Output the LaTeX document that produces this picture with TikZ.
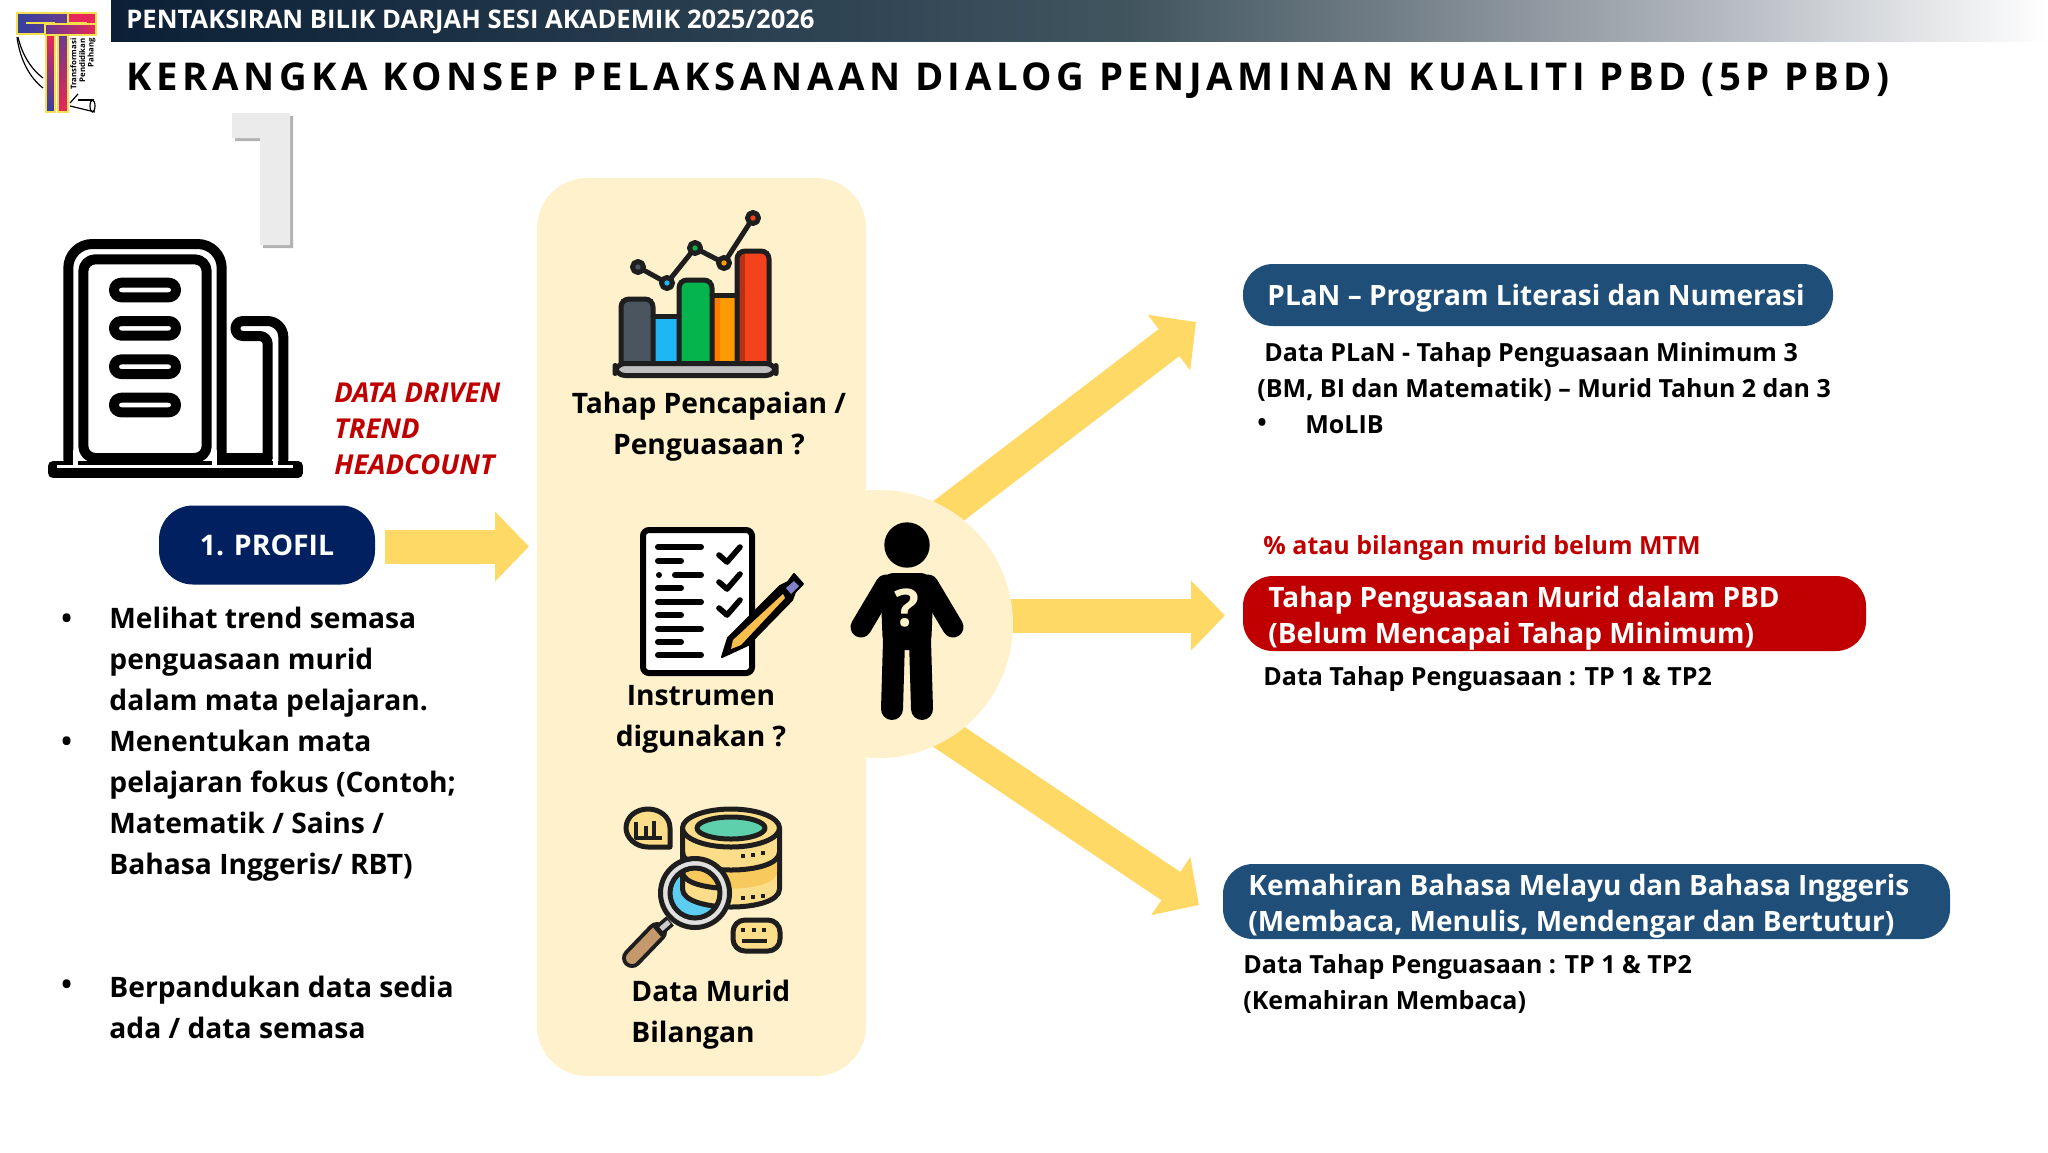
\documentclass[tikz,border=0pt]{standalone}
\usepackage{fontspec}
\setmainfont{Open Sans}
\usetikzlibrary{arrows.meta,shadows}
\definecolor{navybar}{HTML}{0B1F36}
\definecolor{fadea}{HTML}{2D4252}
\definecolor{fadeb}{HTML}{41555F}
\definecolor{fadec}{HTML}{748089}
\definecolor{faded}{HTML}{B0B5BC}
\definecolor{creampanel}{HTML}{FFF1CB}
\definecolor{goldarrow}{HTML}{FED966}
\definecolor{navypill}{HTML}{002060}
\definecolor{bluepill}{HTML}{1F4E79}
\definecolor{redtext}{HTML}{C00000}
\definecolor{inkblack}{HTML}{1E1E1E}
\definecolor{dbyellow}{HTML}{FBDD8A}
\definecolor{dbdeep}{HTML}{F8C95C}
\definecolor{dbteal}{HTML}{5ED0AC}
\definecolor{lensblue}{HTML}{5CCDF0}
\definecolor{handlebrown}{HTML}{C49A6C}
\definecolor{bargray}{HTML}{4B5560}
\definecolor{barblue}{HTML}{1FB6F5}
\definecolor{bargreen}{HTML}{06B44D}
\definecolor{barorange}{HTML}{FF9A00}
\definecolor{barred}{HTML}{F4421D}
\definecolor{logoblue}{HTML}{35409F}
\definecolor{logopurple}{HTML}{6A3A8E}
\definecolor{logopink}{HTML}{E8285A}
\definecolor{logoedge}{HTML}{F4E04D}
\pgfdeclarehorizontalshading{barfade}{100bp}{
  color(0bp)=(navybar); color(25bp)=(navybar); color(42.8bp)=(fadea); color(51.3bp)=(fadeb);
  color(58.3bp)=(fadec); color(66bp)=(faded); color(75bp)=(white); color(100bp)=(white)}
\tikzset{
  bodytext/.style={font=\bfseries\fontsize{14.1}{20.5}\selectfont, inner sep=0pt, align=left, anchor=west, text=black},
  smalltext/.style={font=\bfseries\fontsize{12.5}{18}\selectfont, inner sep=0pt, align=left, anchor=west, text=black},
  pilltext/.style={font=\bfseries\fontsize{14}{18}\selectfont, inner sep=0pt, align=left, anchor=west, text=white},
  redlabel/.style={font=\bfseries\itshape\fontsize{13.7}{18}\selectfont, inner sep=0pt, align=left, anchor=west, text=redtext},
  goldflow/.style={draw=goldarrow, line width=17pt, -{Triangle[length=17pt,width=34pt,fill=goldarrow]}},
  icon/.style={line width=2.5pt, draw=inkblack, line join=round, line cap=round},
  docline/.style={line width=3pt, draw=black, line cap=round},
  tickmark/.style={line width=2.8pt, draw=black, line cap=round, line join=round},
  tower/.style={line width=5pt, draw=black, line join=round, line cap=round},
  logoframe/.style={draw=logoedge, line width=0.6pt}
}
\begin{document}
\begin{tikzpicture}[x=0.5pt, y=-0.5pt]
  \useasboundingbox (0,0) rectangle (2048,1152);
  % Header bar and titles
  \shade[shading=barfade] (111,0) rectangle (2048,41);
  \node[font=\bfseries\fontsize{12.8}{16}\selectfont, text=white, inner sep=0pt, anchor=west] (toptitle) at (126,22) {PENTAKSIRAN BILIK DARJAH SESI AKADEMIK 2025/2026};
  \node[font=\bfseries\fontsize{19.15}{22}\selectfont\addfontfeature{LetterSpace=12}, text=black, inner sep=0pt, anchor=west] (maintitle) at (126,81) {KERANGKA KONSEP PELAKSANAAN DIALOG PENJAMINAN KUALITI PBD (5P PBD)};
  % Logo
  \draw[logoframe, left color=logoblue, right color=logopurple] (17,13) rectangle (68,34);
  \draw[logoframe, fill=logopink] (68,13) rectangle (96,35);
  \draw[logoframe, left color=logopurple, right color=logopink] (45,24) rectangle (96,35);
  \draw[logoframe, top color=logopink, bottom color=logoblue] (46,35) rectangle (55,112);
  \draw[logoframe, top color=logopurple, bottom color=logopink] (58,35) rectangle (68,112);
  \draw[logoframe] (26,23) -- (55,23);
  \draw[logoframe] (69,23) -- (87,23);
  \node[font=\bfseries\fontsize{3.9}{4.3}\selectfont, rotate=90, anchor=east, align=right, inner sep=0pt] (logotext) at (83,38) {Transformasi\\Pendidikan\\Pahang};
  \draw[black, line width=0.6pt] (17,37) .. controls (20,60) and (30,78) .. (43,88);
  \draw[black, line width=0.6pt] (18,37) .. controls (22,55) and (32,70) .. (43,78);
  \draw[black, line width=0.6pt] (70,103) -- (78,94);
  \draw[black, line width=0.6pt] (70,106) -- (95,112);
  \draw[black, line width=0.6pt] (78,100) -- (94,100);
  \draw[black, line width=0.6pt] (92.5,106) ellipse (2.5 and 6);
  % Ghost numeral
  \fill[black!8, drop shadow={shadow xshift=1.6pt, shadow yshift=-1.6pt, opacity=0.3, fill=black}] (232,113) -- (290,113) -- (290,245) -- (260,245) -- (260,138) -- (232,138) -- cycle;
  % Building
  \draw[tower] (53,466) rectangle (298,473);
  \fill[white] (57,465) rectangle (293,468);
  \draw[tower, rounded corners=12pt] (68.3,460) -- (68.3,244) -- (221.7,244) -- (221.7,460);
  \draw[tower, rounded corners=6pt] (83.3,458) -- (83.3,259.3) -- (206.7,259.3) -- (206.7,458) -- cycle;
  \draw[tower] (222,458) -- (267.7,458);
  \draw[tower, rounded corners=8pt] (283.3,460) -- (283.3,321) -- (243,321);
  \draw[tower, rounded corners=4pt] (243,336) -- (267.7,336) -- (267.7,458);
  \draw[tower] (243,321) .. controls (233,321) and (233,336) .. (243,336);
  \fill[white] (73.3,450) rectangle (78.3,465);
  \fill[white] (211.7,450) rectangle (216.7,465);
  \fill[white] (272.7,450) rectangle (278.3,465);
  \draw[tower, rounded corners=3.6pt] (114,282.7) rectangle (176,297.3);
  \draw[tower, rounded corners=3.6pt] (114,321) rectangle (176,335.6);
  \draw[tower, rounded corners=3.6pt] (114,359.4) rectangle (176,374);
  \draw[tower, rounded corners=3.6pt] (114,397.7) rectangle (176,412.3);
  % Profil side
  \node[redlabel] (drivenlabel) at (334,429) {DATA DRIVEN\\TREND\\HEADCOUNT};
  \node[fill=navypill, rounded corners=17pt, minimum width=108pt, minimum height=39.5pt, inner sep=0pt, text=white, font=\bfseries\fontsize{14.2}{18}\selectfont] (profil) at (267,545) {1. PROFIL};
  \node[bodytext] (bulleta) at (61,621) {•};
  \node[bodytext] (pointa) at (109,662) {Melihat trend semasa\\penguasaan murid\\dalam mata pelajaran.};
  \node[bodytext] (bulletb) at (61,744) {•};
  \node[bodytext] (pointb) at (109,806) {Menentukan mata\\pelajaran fokus (Contoh;\\Matematik / Sains /\\Bahasa Inggeris/ RBT)};
  \node[bodytext] (bulletc) at (61,987) {•};
  \node[bodytext] (pointc) at (109,1007) {Berpandukan data sedia\\ada / data semasa};
  % Arrows, with their tails under the centre disc
  \coordinate (profiltail) at (385,546.5);
  \coordinate (paneltip) at (529,546.5);
  \coordinate (hubtop) at (900,548);
  \coordinate (hubmid) at (879,615.5);
  \coordinate (hubbot) at (900,704);
  \coordinate (plantip) at (1196,322);
  \coordinate (tptip) at (1225,615.5);
  \coordinate (skilltip) at (1199,905);
  \draw[goldflow] (profiltail) -- (paneltip);
  \draw[goldflow] (hubtop) -- (plantip);
  \draw[goldflow] (hubmid) -- (tptip);
  \draw[goldflow] (hubbot) -- (skilltip);
  % Cream panel and disc
  \fill[creampanel, rounded corners=25pt] (537,178) rectangle (866,1076);
  \node[circle, fill=creampanel, minimum size=134pt, inner sep=0pt] (hub) at (879,624) {};
  % Chart icon
  \fill[black!25] (616,365) rectangle (775,374);
  \fill[bargray] (621,299) rectangle (653,363);
  \fill[barblue] (653,316) rectangle (679,363);
  \fill[bargreen] (679,280) rectangle (712,363);
  \fill[barorange] (712,295) rectangle (737,363);
  \fill[barred] (737,251) rectangle (769,363);
  \fill[barred!75!black] (739,253) rectangle (745,363);
  \fill[barorange!80!red] (714,297) rectangle (720,363);
  \draw[icon, rounded corners=4pt] (621,363) -- (621,299) -- (653,299) -- (653,363);
  \draw[icon] (653,316) -- (679,316);
  \draw[icon, rounded corners=4pt] (679,363) -- (679,280) -- (712,280) -- (712,363);
  \draw[icon] (712,295) -- (737,295);
  \draw[icon, rounded corners=4pt] (737,363) -- (737,251) -- (769,251) -- (769,363);
  \draw[icon, rounded corners=5pt] (615,363.5) rectangle (776,375.5);
  \draw[icon] (638,267) -- (667,283) -- (695,248) -- (724,263) -- (753,218);
  \draw[icon, fill=bargray] (638,267) circle[radius=5.5];
  \draw[icon, fill=barblue] (667,283) circle[radius=5.5];
  \draw[icon, fill=bargreen] (695,248) circle[radius=5.5];
  \draw[icon, fill=barorange] (724,263) circle[radius=5.5];
  \draw[icon, fill=barred] (753,218) circle[radius=5.5];
  \node[bodytext, anchor=center, align=center] (pencapaian) at (709,427) {Tahap Pencapaian /\\Penguasaan ?};
  % Checklist icon
  \draw[line width=3pt, draw=black, fill=white, rounded corners=3pt] (643,530) rectangle (752,673);
  \draw[docline] (658,547) -- (701,547);
  \draw[docline] (658,561) -- (681,561);
  \draw[docline] (659,575) -- (659,575);
  \draw[docline] (675,575) -- (701,575);
  \draw[docline] (658,588) -- (681,588);
  \draw[docline] (658,602) -- (701,602);
  \draw[docline] (658,615) -- (681,615);
  \draw[docline] (658,629) -- (701,629);
  \draw[docline] (658,642) -- (681,642);
  \draw[docline] (658,655) -- (701,655);
  \draw[tickmark] (719,555) -- (727,562) -- (740,547);
  \draw[tickmark] (719,582) -- (727,589) -- (740,574);
  \draw[tickmark] (719,608) -- (727,615) -- (740,600);
  % Pencil
  \fill[black, line join=round, draw=black, line width=1pt] (722,657) -- (728,638) -- (780,586) -- (788,582) -- (794,574) -- (803,584) -- (795,592) -- (792,600) -- (748,645) -- cycle;
  \fill[dbdeep!85!orange] (731,649) -- (733,640) -- (783,594) -- (785,598) -- (741,645) -- cycle;
  \fill[blue!40!gray!70!white] (786,588) -- (794,581) -- (799,586) -- (791,594) -- cycle;
  \node[bodytext, anchor=center, align=center] (instrumen) at (701,719) {Instrumen\\digunakan ?};
  % Data icon
  \draw[icon, fill=dbyellow] (670,847) -- (648,847) .. controls (636,847) and (626,838) .. (626,828) .. controls (626,817) and (636,809) .. (648,809) .. controls (660,809) and (670,817) .. (670,828) -- cycle;
  \draw[icon, line width=2pt, line cap=butt] (636,822) -- (636,838) -- (662,838);
  \draw[icon, line width=2pt, line cap=butt] (646,826) -- (646,838);
  \draw[icon, line width=2pt, line cap=butt] (654,821) -- (654,838);
  \draw[icon, fill=dbyellow] (682.5,828) -- (682.5,889) .. controls (682.5,913) and (779.5,913) .. (779.5,889) -- (779.5,828) -- cycle;
  \fill[dbdeep] (685,854) .. controls (685,876) and (777,876) .. (777,854) -- (777,872) .. controls (777,894) and (685,894) .. (685,872) -- cycle;
  \draw[icon] (682.5,852) .. controls (682.5,876) and (779.5,876) .. (779.5,852);
  \draw[icon, fill=dbyellow] (731,828) ellipse (48.5 and 19);
  \draw[icon, fill=dbteal] (731,828) ellipse (34 and 11);
  \draw[icon, line width=2.4pt, line cap=butt] (741,856) -- (745,856);
  \draw[icon, line width=2.4pt, line cap=butt] (751,855) -- (755,855);
  \draw[icon, line width=2.4pt, line cap=butt] (761,853) -- (765,853);
  \draw[icon, line width=2.4pt, line cap=butt] (741,898) -- (745,898);
  \draw[icon, line width=2.4pt, line cap=butt] (751,897) -- (755,897);
  \draw[icon, line width=2.4pt, line cap=butt] (761,896) -- (765,896);
  \draw[icon, fill=dbyellow, rounded corners=6pt] (733,920) rectangle (780,951);
  \draw[icon, line width=2.4pt, line cap=butt] (741,930) -- (745,930);
  \draw[icon, line width=2.4pt, line cap=butt] (752,930) -- (756,930);
  \draw[icon, line width=2.4pt, line cap=butt] (762,930) -- (766,930);
  \draw[icon, line width=2pt, line cap=butt] (742,941) -- (767,941);
  \draw[line width=10pt, draw=inkblack, line cap=round] (657,932) -- (632,958);
  \draw[line width=6pt, draw=handlebrown, line cap=round] (657,932) -- (632,958);
  \draw[line width=6pt, draw=inkblack] (670,921) -- (657,932);
  \draw[line width=2.5pt, draw=black!20] (669,922) -- (661,929);
  \begin{scope}
    \clip (695,893) circle[radius=30];
    \fill[lensblue] (695,893) circle[radius=30];
    \fill[dbyellow] (682.5,850) -- (682.5,889) .. controls (682.5,913) and (779.5,913) .. (779.5,889) -- (779.5,850) -- cycle;
    \fill[dbdeep] (682.5,850) -- (682.5,872) .. controls (682.5,894) and (779.5,894) .. (779.5,872) -- (779.5,850) -- cycle;
    \draw[icon] (682.5,850) -- (682.5,889) .. controls (682.5,913) and (779.5,913) .. (779.5,889);
    \draw[icon] (682.5,872) .. controls (682.5,894) and (779.5,894) .. (779.5,872);
  \end{scope}
  \draw[line width=3.5pt, draw=black!12] (695,893) circle[radius=28.5];
  \draw[icon] (695,893) circle[radius=34.5];
  \draw[icon] (695,893) circle[radius=25];
  \node[bodytext] (datamurid) at (631,1015) {Data Murid\\Bilangan};
  % Person
  \fill[black] (907,545) circle[radius=22.7];
  \fill[black, rounded corners=7pt] (880,573) -- (934,573) -- (931,650) -- (883,650) -- cycle;
  \draw[black, line width=10.5pt, line cap=round] (886,585) -- (861,627);
  \draw[black, line width=10.5pt, line cap=round] (928,585) -- (953,627);
  \draw[black, line width=11pt, line cap=round] (894,640) -- (892,709);
  \draw[black, line width=11pt, line cap=round] (920,640) -- (922,709);
  \fill[black] (905,630) rectangle (909,644);
  \node[font=\bfseries\fontsize{26}{26}\selectfont, text=creampanel, inner sep=0pt] (mark) at (907,608) {?};
  % Right column
  \node[fill=bluepill, rounded corners=15pt, minimum width=295pt, minimum height=31pt, inner sep=0pt] (planpill) at (1538,295) {};
  \node[pilltext] (plantitle) at (1267,298) {PLaN – Program Literasi dan Numerasi};
  \node[smalltext] (planone) at (1264,355) {Data PLaN - Tahap Penguasaan Minimum 3};
  \node[smalltext] (plantwo) at (1257,390) {(BM, BI dan Matematik) – Murid Tahun 2 dan 3};
  \node[smalltext] (planbullet) at (1257,425) {•};
  \node[smalltext] (molib) at (1305,425) {MoLIB};
  \node[smalltext, text=redtext] (belummtm) at (1263,548) {\% atau bilangan murid belum MTM};
  \node[fill=redtext, rounded corners=15pt, minimum width=311.5pt, minimum height=37.5pt, inner sep=0pt] (tppill) at (1554.5,613.5) {};
  \node[pilltext] (tptitle) at (1268,618) {Tahap Penguasaan Murid dalam PBD\\(Belum Mencapai Tahap Minimum)};
  \node[smalltext] (tpdata) at (1263,679) {Data Tahap Penguasaan : TP 1 \& TP2};
  \node[fill=bluepill, rounded corners=15pt, minimum width=363.5pt, minimum height=37.5pt, inner sep=0pt] (skillpill) at (1586.5,901.5) {};
  \node[pilltext] (skilltitle) at (1248,906) {Kemahiran Bahasa Melayu dan Bahasa Inggeris\\(Membaca, Menulis, Mendengar dan Bertutur)};
  \node[smalltext] (skilldata) at (1243,984) {Data Tahap Penguasaan : TP 1 \& TP2\\(Kemahiran Membaca)};
\end{tikzpicture}
\end{document}
